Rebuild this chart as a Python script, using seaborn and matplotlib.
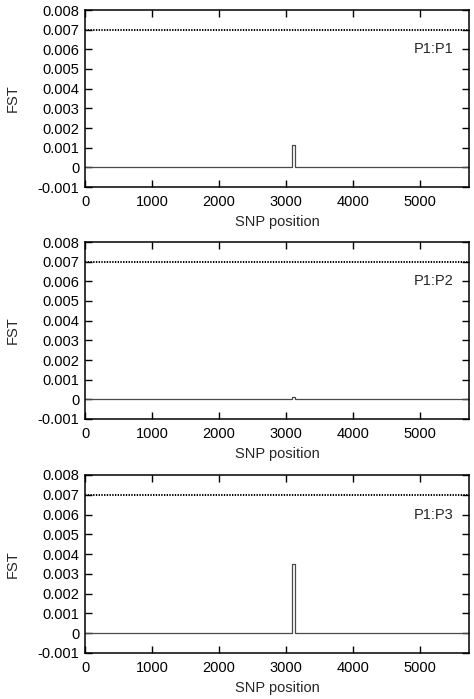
import numpy as np
import pandas as pd
import matplotlib
matplotlib.use("Agg")
import matplotlib.pyplot as plt
import seaborn as sns

# step breakpoints along the SNP axis (steps-post)
snp_pos = [0, 3090, 3140, 5730]
fst_p1p1 = [0, 0.00115, 0, 0]
fst_p1p2 = [0, 0.0001, 0, 0]
fst_p1p3 = [0, 0.0035, 0, 0]
pair_labels = ["P1:P1", "P1:P2", "P1:P3"]
threshold = 0.007

y_ticks = [-0.001, 0, 0.001, 0.002, 0.003, 0.004, 0.005, 0.006, 0.007, 0.008]
y_tick_labels = ["-0.001", "0", "0.001", "0.002", "0.003", "0.004", "0.005", "0.006", "0.007", "0.008"]
x_ticks = [0, 1000, 2000, 3000, 4000, 5000]

sns.set_style("ticks")
plt.rcParams["font.family"] = ["Liberation Sans", "DejaVu Sans"]

W, H = 474, 699
fig = plt.figure(figsize=(W / 100, H / 100), dpi=100)

# axes boxes in pixels: (top, bottom)
boxes = [(10, 187), (242, 419), (475, 653)]
left, right = 85, 469

for (top, bot), fst, lab in zip(boxes, [fst_p1p1, fst_p1p2, fst_p1p3], pair_labels):
    ax = fig.add_axes([left / W, 1 - bot / H, (right - left) / W, (bot - top) / H])
    df = pd.DataFrame({"pos": snp_pos, "fst": fst})
    sns.lineplot(data=df, x="pos", y="fst", ax=ax, estimator=None, sort=False,
                 drawstyle="steps-post", color="#4a4a4a", lw=0.9)
    # significance threshold
    ax.axhline(threshold, color="black", lw=1.4, ls=(0, (0.7, 0.7)))
    ax.set_xlim(0, 5730)
    ax.set_ylim(-0.001, 0.008)
    ax.set_yticks(y_ticks)
    ax.set_yticklabels(y_tick_labels)
    ax.set_xticks(x_ticks)
    ax.tick_params(direction="in", length=5, width=1, labelsize=10.5,
                   top=True, right=True, pad=4, colors="black")
    ax.tick_params(axis="x", pad=6)
    for s in ax.spines.values():
        s.set_linewidth(1.1)
        s.set_color("black")
    ax.set_xlabel("SNP position", fontsize=10.5, labelpad=4)
    ax.set_ylabel("FST", fontsize=10.5, labelpad=13)
    ax.text(5500, 0.006, lab, ha="right", va="center", fontsize=10.5)

fig.savefig("out.png", dpi=100)
